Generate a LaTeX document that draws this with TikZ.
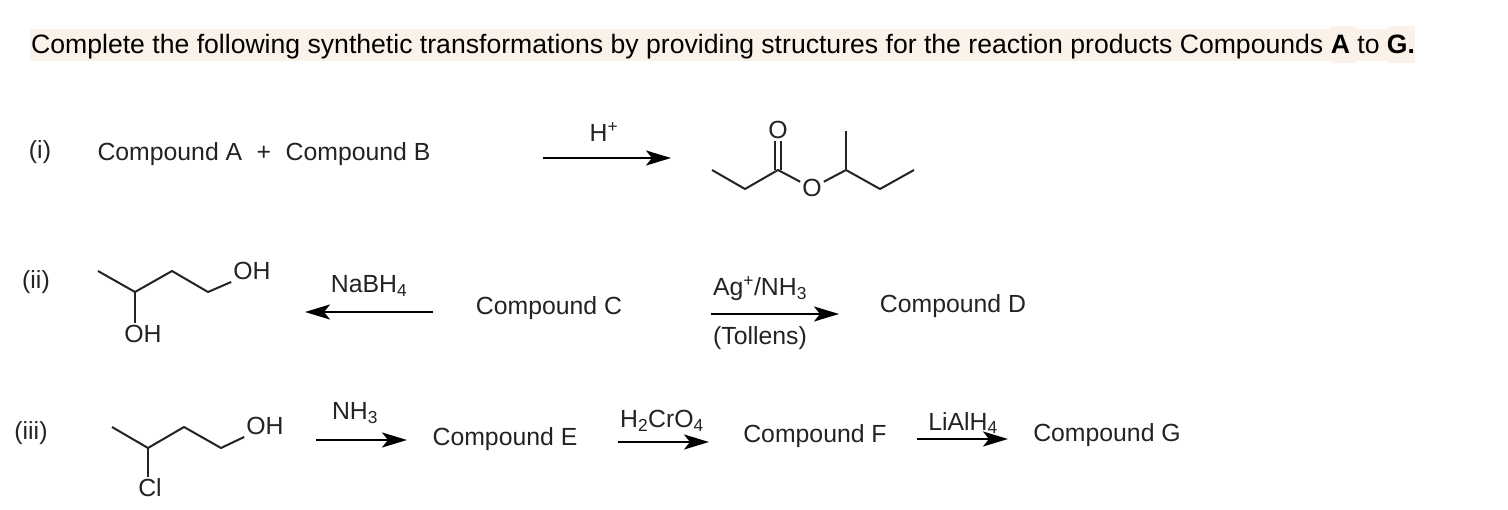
\documentclass[tikz,border=0pt]{standalone}
\usepackage{fontspec}
\setmainfont{Liberation Sans}
\usepackage{xcolor}
\definecolor{highlight}{RGB}{250,241,232}
\definecolor{inkgrey}{RGB}{35,35,35}
\usetikzlibrary{arrows.meta}
\tikzset{
    chem/.style={inner sep=0pt, yshift=-2pt, text=inkgrey, font=\fontsize{24.8}{28}\selectfont},
    atom/.style={chem, inner sep=2pt},
    bond/.style={draw=inkgrey, line width=2pt},
    rxn/.style={draw=black, line width=2.2pt, -{Stealth[length=25pt,width=15pt,inset=6pt]}},
}
\begin{document}
\begin{tikzpicture}[x=1pt, y=-1pt]
    \useasboundingbox (0,0) rectangle (1508,510);
    % title
    \fill[highlight] (30,29) rectangle (1414,61);
    \fill[highlight] (1331,26) rectangle (1356,63);
    \fill[highlight] (1388,26) rectangle (1415,63);
    \node [anchor=west, inner sep=0pt, font=\fontsize{26.6}{30}\selectfont] (title) at (31,47)
        {Complete the following synthetic transformations by providing structures for the reaction products Compounds \textbf{A} to \textbf{G.}};

    % (i)
    \node [chem] (labeli) at (40,150) {(i)};
    \node [chem] (cpdab) at (264,152) {Compound A\hspace{14.5pt}+\hspace{14.5pt}Compound B};
    \coordinate (arrowis) at (543,158);
    \coordinate (arrowie) at (671,158);
    \draw [rxn] (arrowis) -- (arrowie);
    \node [chem] (acid) at (604,130) {H\textsuperscript{+}};
    \coordinate (e1) at (712,170);
    \coordinate (e2) at (745,189);
    \coordinate (e3) at (778,170);
    \node [atom] (e4) at (778,128) {O};
    \node [atom] (e5) at (812,186) {O};
    \coordinate (e6) at (846,170);
    \coordinate (e7) at (846,131);
    \coordinate (e8) at (880,189);
    \coordinate (e9) at (914,170);
    \draw [bond, line join=round] (e1) -- (e2) -- (e3) -- (e5) -- (e6) -- (e8) -- (e9);
    \draw [bond] (e6) -- (e7);
    \draw [bond] ([xshift=-3pt]e3) -- ([xshift=-3pt]e4.south);
    \draw [bond] ([xshift=3pt]e3) -- ([xshift=3pt]e4.south);

    % (ii)
    \node [chem] (labelii) at (36,280) {(ii)};
    \coordinate (d1) at (98,271);
    \coordinate (d2) at (135,292);
    \coordinate (d3) at (172,271);
    \coordinate (d4) at (208,292);
    \node [atom] (d5) at (252,269) {OH};
    \node [atom] (d6) at (143,332) {OH};
    \draw [bond, line join=round] (d1) -- (d2) -- (d3) -- (d4) -- (d5.south west);
    \draw [bond] (d2) -- (d2 |- d6.north);
    \coordinate (arrowiis) at (433,312);
    \coordinate (arrowiie) at (305,312);
    \draw [rxn] (arrowiis) -- (arrowiie);
    \node [chem] (nabh) at (369,284) {NaBH\textsubscript{4}};
    \node [chem] (cpdc) at (549,306) {Compound C};
    \node [chem] (tollens) at (760,287) {Ag\textsuperscript{+}/NH\textsubscript{3}};
    \coordinate (arrowiiis) at (711,314);
    \coordinate (arrowiiie) at (839,314);
    \draw [rxn] (arrowiiis) -- (arrowiiie);
    \node [chem] (tollensb) at (760,336) {(Tollens)};
    \node [chem] (cpdd) at (953,304) {Compound D};

    % (iii)
    \node [chem] (labeliii) at (31,431) {(iii)};
    \coordinate (c1) at (112,427);
    \coordinate (c2) at (148,448);
    \coordinate (c3) at (184,427);
    \coordinate (c4) at (221,448);
    \node [atom] (c5) at (265,424) {OH};
    \node [atom] (c6) at (150,486) {Cl};
    \draw [bond, line join=round] (c1) -- (c2) -- (c3) -- (c4) -- (c5.south west);
    \draw [bond] (c2) -- (c2 |- c6.north);
    \coordinate (arrowivs) at (316,440);
    \coordinate (arrowive) at (407,440);
    \draw [rxn] (arrowivs) -- (arrowive);
    \node [chem] (nh) at (355,411) {NH\textsubscript{3}};
    \node [chem] (cpde) at (505,437) {Compound E};
    \coordinate (arrowvs) at (618,442);
    \coordinate (arrowve) at (709,442);
    \draw [rxn] (arrowvs) -- (arrowve);
    \node [chem] (chromic) at (662,419) {H\textsubscript{2}CrO\textsubscript{4}};
    \node [chem] (cpdf) at (815,434) {Compound F};
    \coordinate (arrowvis) at (917,439);
    \coordinate (arrowvie) at (1008,439);
    \draw [rxn] (arrowvis) -- (arrowvie);
    \node [chem] (lialh) at (963,421) {LiAlH\textsubscript{4}};
    \node [chem] (cpdg) at (1107,433) {Compound G};
\end{tikzpicture}
\end{document}
